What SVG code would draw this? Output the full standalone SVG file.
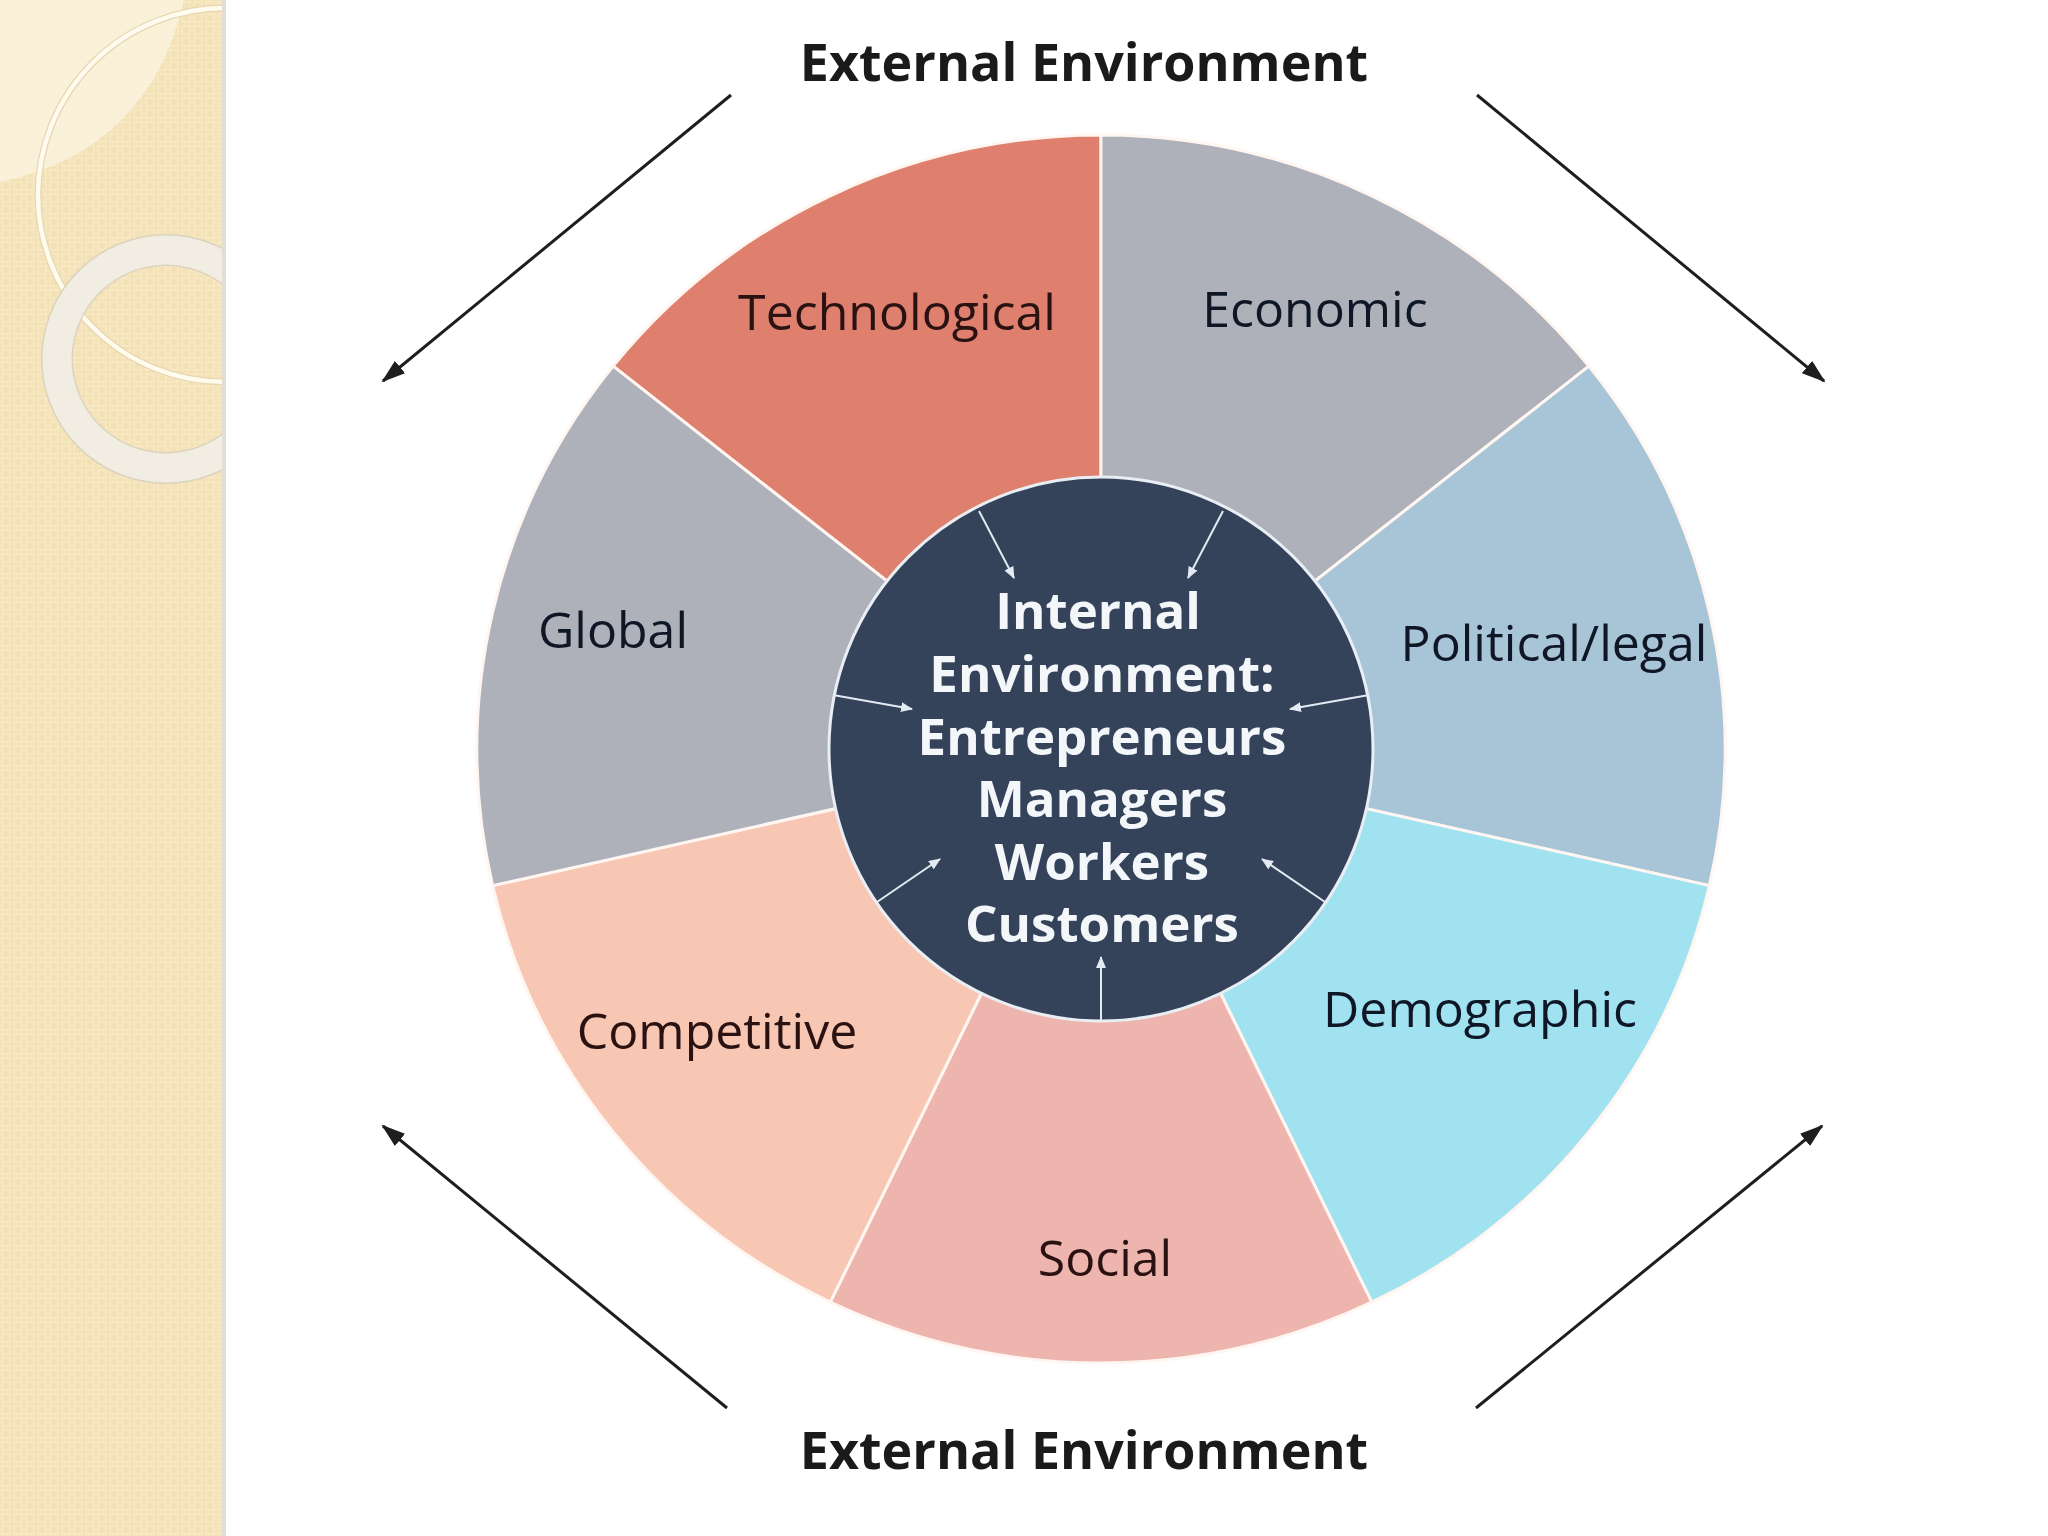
<svg xmlns="http://www.w3.org/2000/svg" width="2048" height="1536" viewBox="0 0 2048 1536">
  <defs>
    <pattern id="dots" x="0" y="0" width="12" height="12" patternUnits="userSpaceOnUse">
      <rect width="12" height="12" fill="#F4E2B6"/>
      <rect x="2" y="2" width="8" height="8" fill="none" stroke="#F9EBC9" stroke-width="1.5"/>
    </pattern>
    <clipPath id="stripClip"><rect x="0" y="0" width="226" height="1536"/></clipPath>
    <marker id="wArrow" viewBox="0 0 12 10" refX="11" refY="5" markerWidth="12" markerHeight="10" markerUnits="userSpaceOnUse" orient="auto">
      <path d="M0,0 L12,5 L0,10 Z" fill="#E3EAF1"/>
    </marker>
    <marker id="bArrow" viewBox="0 0 24 16" refX="22" refY="8" markerWidth="24" markerHeight="16" markerUnits="userSpaceOnUse" orient="auto">
      <path d="M0,0 L24,8 L0,16 Z" fill="#1E1E1E"/>
    </marker>
  </defs>
  <style>
    .seg { stroke: #FFF6F2; stroke-width: 3; stroke-linejoin: round; }
    .lbl { font-family: "Open Sans", "Noto Sans", "DejaVu Sans", sans-serif; font-size: 50px; text-anchor: middle; }
    .ext { font-family: "Open Sans", "Noto Sans", "DejaVu Sans", sans-serif; font-size: 52px; font-weight: bold; text-anchor: middle; fill: #1A1A1A; }
    .inner { font-family: "Open Sans", "Noto Sans", "DejaVu Sans", sans-serif; font-size: 51px; font-weight: bold; text-anchor: middle; fill: #F4F7FA; }
    .warr { stroke: #E3EAF1; stroke-width: 2; fill: none; marker-end: url(#wArrow); }
    .barr { stroke: #1E1E1E; stroke-width: 3; fill: none; marker-end: url(#bArrow); }
  </style>

  <rect x="0" y="0" width="2048" height="1536" fill="#FFFFFF"/>

  <!-- decorative left strip -->
  <g id="strip" clip-path="url(#stripClip)">
    <rect x="0" y="0" width="226" height="1536" fill="url(#dots)"/>
    <path d="M0,0 L184,0 Q150,150 0,182 Z" fill="#FBF4E2" opacity="0.75"/>
    <circle cx="225" cy="195" r="187" fill="none" stroke="#E7D7B0" stroke-width="7"/>
    <circle cx="225" cy="195" r="187" fill="none" stroke="#FFFBEF" stroke-width="4.5"/>
    <circle cx="166" cy="359" r="109" fill="none" stroke="#DCD3BE" stroke-width="32"/>
    <circle cx="166" cy="359" r="109" fill="none" stroke="#F1EDE3" stroke-width="29"/>
    <rect x="222" y="0" width="4" height="1536" fill="#E3DED3"/>
  </g>

  <!-- external segments -->
  <g id="technological">
    <path class="seg" d="M1101,749 L613.14,366.18 A624,614 0 0 1 1101,135 Z" fill="#DF806F"/>
    <text class="lbl" x="897" y="330" fill="#2A1212">Technological</text>
  </g>
  <g id="economic">
    <path class="seg" d="M1101,749 L1101,135 A624,614 0 0 1 1588.86,366.18 Z" fill="#AEB1B9"/>
    <text class="lbl" x="1315" y="327" fill="#0F1626">Economic</text>
  </g>
  <g id="political-legal">
    <path class="seg" d="M1101,749 L1588.86,366.18 A624,614 0 0 1 1709.36,885.63 Z" fill="#A7C5D7"/>
    <text class="lbl" x="1554" y="661" fill="#0F1626">Political/legal</text>
  </g>
  <g id="demographic">
    <path class="seg" d="M1101,749 L1709.36,885.63 A624,614 0 0 1 1371.74,1302.2 Z" fill="#A0E2EF"/>
    <text class="lbl" x="1480" y="1027" fill="#0F1626">Demographic</text>
  </g>
  <g id="social">
    <path class="seg" d="M1101,749 L1371.74,1302.2 A624,614 0 0 1 830.26,1302.2 Z" fill="#EDB5AD"/>
    <text class="lbl" x="1105" y="1276" fill="#2A1212">Social</text>
  </g>
  <g id="competitive">
    <path class="seg" d="M1101,749 L830.26,1302.2 A624,614 0 0 1 492.64,885.63 Z" fill="#F8C7B3"/>
    <text class="lbl" x="717" y="1049" fill="#2A1212">Competitive</text>
  </g>
  <g id="global">
    <path class="seg" d="M1101,749 L492.64,885.63 A624,614 0 0 1 613.14,366.18 Z" fill="#AEB1B9"/>
    <text class="lbl" x="613" y="648" fill="#0F1626">Global</text>
  </g>

  <!-- internal environment -->
  <g id="internal">
    <circle cx="1101" cy="749" r="272" fill="#34435A" stroke="#E8EEF3" stroke-width="3"/>
    <text class="inner" x="1098" y="629">Internal</text>
    <text class="inner" x="1102" y="692">Environment:</text>
    <text class="inner" x="1102" y="755">Entrepreneurs</text>
    <text class="inner" x="1102" y="817">Managers</text>
    <text class="inner" x="1102" y="880">Workers</text>
    <text class="inner" x="1102" y="942">Customers</text>
  </g>

  <!-- external titles -->
  <g id="external-top"><text class="ext" x="1084" y="81">External Environment</text></g>
  <g id="external-bottom"><text class="ext" x="1084" y="1469">External Environment</text></g>

  <!-- connectors -->
  <g id="connectors">
    <line class="warr" x1="979" y1="511" x2="1014" y2="578"/>
    <line class="warr" x1="1223" y1="511" x2="1188" y2="578"/>
    <line class="warr" x1="833" y1="695" x2="912" y2="709"/>
    <line class="warr" x1="1369" y1="695" x2="1290" y2="709"/>
    <line class="warr" x1="877" y1="902" x2="940" y2="859"/>
    <line class="warr" x1="1325" y1="902" x2="1262" y2="859"/>
    <line class="warr" x1="1101" y1="1020" x2="1101" y2="957"/>

    <line class="barr" x1="731" y1="95" x2="383" y2="381"/>
    <line class="barr" x1="1477" y1="95" x2="1824" y2="381"/>
    <line class="barr" x1="727" y1="1408" x2="383" y2="1126"/>
    <line class="barr" x1="1476" y1="1408" x2="1822" y2="1126"/>
  </g>
</svg>
